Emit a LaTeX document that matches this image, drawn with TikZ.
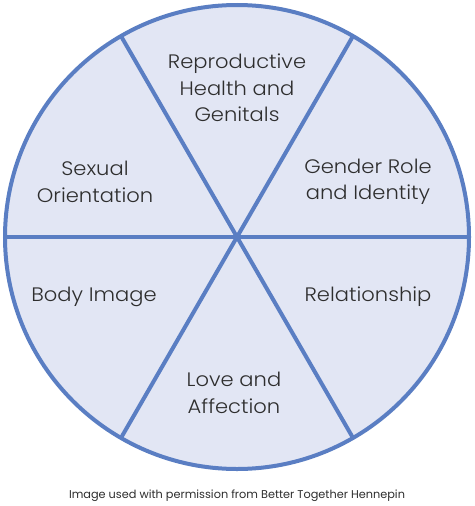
\documentclass[tikz,border=0pt]{standalone}
\usepackage{fontspec}
\setmainfont{Poppins}[UprightFont=* Light,BoldFont=* Medium,FakeStretch=1.08]
\newfontfamily\captionfont{Poppins}
\definecolor{wheelfill}{HTML}{E2E6F4}
\definecolor{wheelline}{HTML}{5A7EC3}
\definecolor{txt}{HTML}{2E2E2E}
\begin{document}
\begin{tikzpicture}[x=1pt,y=-1pt,
  lbl/.style={text=txt,font=\fontsize{19.5}{26.5}\selectfont,align=center,inner sep=0pt},
  captiontext/.style={text=txt,font=\captionfont\fontsize{11.3}{14}\selectfont,inner sep=0pt},
  spoke/.style={draw=wheelline,line width=4pt}]
\useasboundingbox (0,0) rectangle (474,506);
\coordinate (c) at (237,237);
\fill[white] (0,0) rectangle (474,506);
\draw[fill=wheelfill,draw=wheelline,line width=4pt] (c) circle[radius=232];
\path (c) ++(0:232) coordinate (e0);
\path (c) ++(180:232) coordinate (e180);
\path (c) ++(60:232) coordinate (e60);
\path (c) ++(240:232) coordinate (e240);
\path (c) ++(120:232) coordinate (e120);
\path (c) ++(300:232) coordinate (e300);
\draw[spoke] (e0) -- (e180);
\draw[spoke] (e60) -- (e240);
\draw[spoke] (e120) -- (e300);
\node[lbl] (repro) at (237,88) {Reproductive\\Health and\\Genitals};
\node[lbl] (sexual) at (95,182) {Sexual\\Orientation};
\node[lbl] (gender) at (368,182) {Gender Role\\and Identity};
\node[lbl] (body) at (94,297) {Body Image};
\node[lbl] (rel) at (368,297) {Relationship};
\node[lbl] (love) at (234,393) {Love and\\Affection};
\node[captiontext] (caption) at (237,496) {Image used with permission from Better Together Hennepin};
\end{tikzpicture}
\end{document}
